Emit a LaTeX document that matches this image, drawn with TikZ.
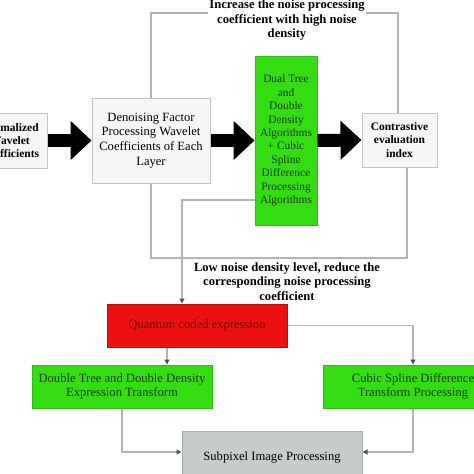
\documentclass[tikz,border=0pt]{standalone}
\usepackage{fontspec}
\setmainfont{Liberation Serif}
\usetikzlibrary{arrows.meta}
\definecolor{lineg}{HTML}{B4B4B4}
\definecolor{boxb}{HTML}{C4C4C4}
\definecolor{wfill}{HTML}{F6F6F6}
\definecolor{gfill}{HTML}{33DD11}
\definecolor{gborder}{HTML}{2DBE10}
\definecolor{gtext}{HTML}{1E3C10}
\definecolor{rfill}{HTML}{EE1111}
\definecolor{rborder}{HTML}{B80D0D}
\definecolor{rtext}{HTML}{6E0808}
\definecolor{grayfill}{HTML}{C6CCCC}
\definecolor{grayborder}{HTML}{A8AEAE}
\definecolor{tipc}{HTML}{505050}
\begin{document}
\begin{tikzpicture}[x=1pt,y=-1pt,
  box/.style={draw=boxb, line width=1pt, inner sep=0pt, align=center},
  whitebox/.style={box, fill=wfill},
  greenbox/.style={box, fill=gfill, draw=gborder, text=gtext},
  redbox/.style={box, fill=rfill, draw=rborder, text=rtext},
  graybox/.style={box, fill=grayfill, draw=grayborder},
  bigf/.style={font=\fontsize{12.6}{14.7}\selectfont},
  bigbf/.style={font=\fontsize{12.6}{14.6}\selectfont\bfseries},
  smallf/.style={font=\fontsize{11.4}{13.4}\selectfont},
  smallbf/.style={font=\fontsize{11.5}{13.4}\selectfont\bfseries},
  conn/.style={draw=lineg, line width=1.2pt},
  arr/.style={conn, -{Triangle[length=5pt,width=5pt,color=tipc]}},
  bigarrow/.style={draw=black, line width=13pt, -{Triangle[length=21pt,width=38pt]}}
]
\useasboundingbox (0,0) rectangle (474,474);
\clip (0,0) rectangle (474,474);
\fill[white] (0,0) rectangle (474,474);

% feedback loops (drawn first)
\coordinate (topl) at (151,13);
\coordinate (topr) at (398,13);
\coordinate (botl) at (151,258);
\coordinate (botr) at (407,258);
\coordinate (gtap) at (255,200);
\coordinate (gturn) at (182,200);

% nodes
\node[whitebox, smallbf, minimum width=74pt, minimum height=55pt] (norm) at (10,140.5) {Normalized\\Wavelet\\Coefficients};
\node[whitebox, bigf, minimum width=118pt, minimum height=85pt] (denoise) at (151,140.5) {Denoising Factor\\Processing Wavelet\\Coefficients of Each\\Layer};
\node[greenbox, smallf, minimum width=62pt, minimum height=169pt] (dual) at (286,140.5) {Dual Tree\\and\\Double\\Density\\Algorithms\\+ Cubic\\Spline\\Difference\\Processing\\Algorithms};
\node[whitebox, smallbf, minimum width=75pt, minimum height=54pt] (contrast) at (399.5,140) {Contrastive\\evaluation\\index};

\node[redbox, bigf, minimum width=180pt, minimum height=43pt] (quantum) at (197,325.5) {Quantum coded expression};
\node[greenbox, bigf, minimum width=180pt, minimum height=43pt] (dtree) at (122,386.5) {Double Tree and Double Density\\Expression Transform};
\node[greenbox, bigf, minimum width=180pt, minimum height=43pt] (cubic) at (413,386.5) {Cubic Spline Difference\\Transform Processing};
\node[graybox, bigf, minimum width=180pt, minimum height=60pt] (subpix) at (272,461) {\raisebox{9pt}{Subpixel Image Processing}};

% loop lines
\draw[conn] (denoise.north) -- (topl) -- (topr) -- (topr |- contrast.north);
\draw[conn] (denoise.south) -- (botl) -- (botr) -- (botr |- contrast.south);

% labels
\node[bigbf, align=center, fill=white, inner sep=1pt] (inclabel) at (287,20) {Increase the noise processing\\coefficient with high noise\\density};
\node[bigbf, align=center, inner sep=1pt] (lowlabel) at (287,281.5) {Low noise density level, reduce the\\corresponding noise processing\\coefficient};

% green to quantum
\draw[arr] (gtap) -- (gturn) -- (gturn |- quantum.north);

% big black arrows
\draw[bigarrow] (norm.east) -- (denoise.west);
\draw[bigarrow] (denoise.east) -- (dual.west);
\draw[bigarrow] (dual.east) -- (contrast.west);

% lower connectors
\draw[arr] (quantum.east) -| (cubic.north);
\draw[arr] ([xshift=-30pt]quantum.south) -- ([xshift=-30pt]quantum.south |- dtree.north);
\draw[arr] (dtree.south) |- ([yshift=9pt]subpix.west);
\draw[arr] (cubic.south) |- ([yshift=9pt]subpix.east);
\end{tikzpicture}
\end{document}
